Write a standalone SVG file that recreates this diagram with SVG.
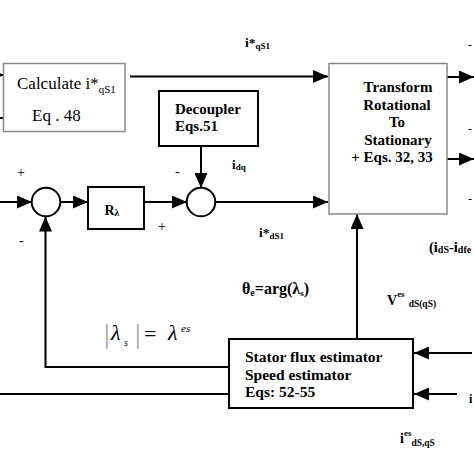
<svg xmlns="http://www.w3.org/2000/svg" width="474" height="474" viewBox="0 0 474 474">
<style>
.ln{stroke:#000;stroke-width:2;fill:none}
.bk{stroke:#000;stroke-width:2;fill:#fff}
.gr{stroke:#888;stroke-width:1.5;fill:#fff}
.t{font-family:"Liberation Serif","Times New Roman",serif;fill:#000}
.b{font-weight:bold}
</style>
<defs>
<marker id="ah" markerUnits="userSpaceOnUse" markerWidth="15" markerHeight="13" refX="15" refY="6.5" orient="auto">
<path d="M0,0 L15,6.5 L0,13 z" fill="#000"/>
</marker>
</defs>
<rect width="474" height="474" fill="#fff"/>
<g id="connectors">
<line class="ln" x1="-5" y1="75" x2="4" y2="75" marker-end="url(#ah)"/>
<line class="ln" x1="0" y1="118" x2="4" y2="118"/>
<line class="ln" x1="130" y1="76.5" x2="328" y2="76.5" marker-end="url(#ah)"/>
<line class="ln" x1="0" y1="202" x2="32" y2="202" marker-end="url(#ah)"/>
<line class="ln" x1="61" y1="202" x2="88" y2="202" marker-end="url(#ah)"/>
<line class="ln" x1="144" y1="202" x2="187" y2="202" marker-end="url(#ah)"/>
<line class="ln" x1="201" y1="146" x2="201" y2="188" marker-end="url(#ah)"/>
<line class="ln" x1="215" y1="202" x2="328" y2="202" marker-end="url(#ah)"/>
<line class="ln" x1="441" y1="77" x2="474" y2="77" marker-end="url(#ah)"/>
<line class="ln" x1="441" y1="159" x2="474" y2="159" marker-end="url(#ah)"/>
<line class="ln" x1="357" y1="339" x2="357" y2="214" marker-end="url(#ah)"/>
<polyline class="ln" points="229,367 45.5,367 45.5,216.5" marker-end="url(#ah)"/>
<line class="ln" x1="0" y1="394" x2="229" y2="394"/>
<line class="ln" x1="472" y1="353" x2="414" y2="353" marker-end="url(#ah)"/>
<line class="ln" x1="457" y1="394" x2="414" y2="394" marker-end="url(#ah)"/>
</g>
<g id="calc">
<rect class="gr" x="3.5" y="63.5" width="121.5" height="68"/>
<text class="t" x="17" y="89" font-size="17">Calculate i*<tspan font-size="11" dy="4">qS1</tspan></text>
<text class="t" x="32" y="121" font-size="17">Eq  . 48</text>
</g>
<g id="decoupler">
<rect class="bk" x="159" y="91" width="99" height="55"/>
<text class="t b" x="175" y="114" font-size="15">Decoupler</text>
<text class="t b" x="175" y="131" font-size="15">Eqs.51</text>
</g>
<g id="sum1">
<circle class="bk" cx="46" cy="202" r="14.3"/>
</g>
<g id="rl">
<rect class="bk" x="88" y="187" width="56" height="42"/>
<text class="t b" x="112" y="215" font-size="14" text-anchor="middle">R<tspan font-size="10" dy="1">λ</tspan></text>
</g>
<g id="sum2">
<circle class="bk" cx="201" cy="202" r="14.3"/>
</g>
<g id="transform">
<rect class="gr" x="329" y="63.5" width="118" height="150.5"/>
<g class="t b" font-size="15" text-anchor="middle">
<text x="398" y="92">Transform</text>
<text x="397" y="109.5">Rotational</text>
<text x="397" y="127">To</text>
<text x="398" y="144.5">Stationary</text>
<text x="392" y="162">+ Eqs. 32, 33</text>
</g>
</g>
<g id="estimator">
<rect class="bk" x="229" y="339" width="184" height="69"/>
<g class="t b" font-size="15.5">
<text x="245" y="362">Stator flux estimator</text>
<text x="245" y="379.5">Speed estimator</text>
<text x="245" y="397">Eqs: 52-55</text>
</g>
</g>
<g id="labels">
<text class="t" x="17" y="177" font-size="14">+</text>
<text class="t" x="175" y="176" font-size="14">-</text>
<text class="t" x="158" y="231" font-size="14">+</text>
<text class="t" x="19" y="245" font-size="14">-</text>
<text class="t b" x="245" y="47" font-size="13.5">i*<tspan font-size="9" dy="2">qS1</tspan></text>
<text class="t b" x="232" y="169" font-size="13">i<tspan font-size="9" dy="1">dq</tspan></text>
<text class="t b" x="259" y="237" font-size="13.5">i*<tspan font-size="9" dy="2">dS1</tspan></text>
<text class="t b" x="429" y="252" font-size="14.5">(i<tspan font-size="10" dy="1">dS</tspan><tspan dy="-1">-i</tspan><tspan font-size="10" dy="1">dfe</tspan></text>
<text class="t b" x="242" y="294" font-size="16">θ<tspan font-size="10" dy="2">e</tspan><tspan dy="-2">=arg(</tspan><tspan>λ</tspan><tspan font-size="9" dy="2">s</tspan><tspan dy="-2">)</tspan></text>
<text class="t b" x="387" y="305" font-size="14">V<tspan font-size="9" dy="-8">es</tspan><tspan font-size="9.5" dx="4" dy="10">dS(qS)</tspan></text>
<text class="t b" x="400" y="443" font-size="14">i<tspan font-size="9" dy="-7">es</tspan><tspan font-size="9.5" dx="0" dy="10">dS,qS</tspan></text>
<text class="t" x="468" y="49" font-size="12">-</text>
<text class="t" x="468" y="133" font-size="12">-</text>
<text class="t" x="468" y="203" font-size="12">-</text>
<text class="t b" x="469" y="403" font-size="12">i</text>
<g class="t" font-size="22" font-style="italic">
<text x="104" y="343" fill="#999" font-style="normal" font-size="28">|</text>
<text x="111" y="340">λ</text>
<text x="124" y="346" font-size="10">s</text>
<text x="135" y="343" fill="#999" font-style="normal" font-size="28">|</text>
<text x="144" y="341" font-style="normal">=</text>
<text x="168" y="340">λ</text>
<text x="181" y="332" font-size="11">es</text>
</g>
</g>
</svg>
